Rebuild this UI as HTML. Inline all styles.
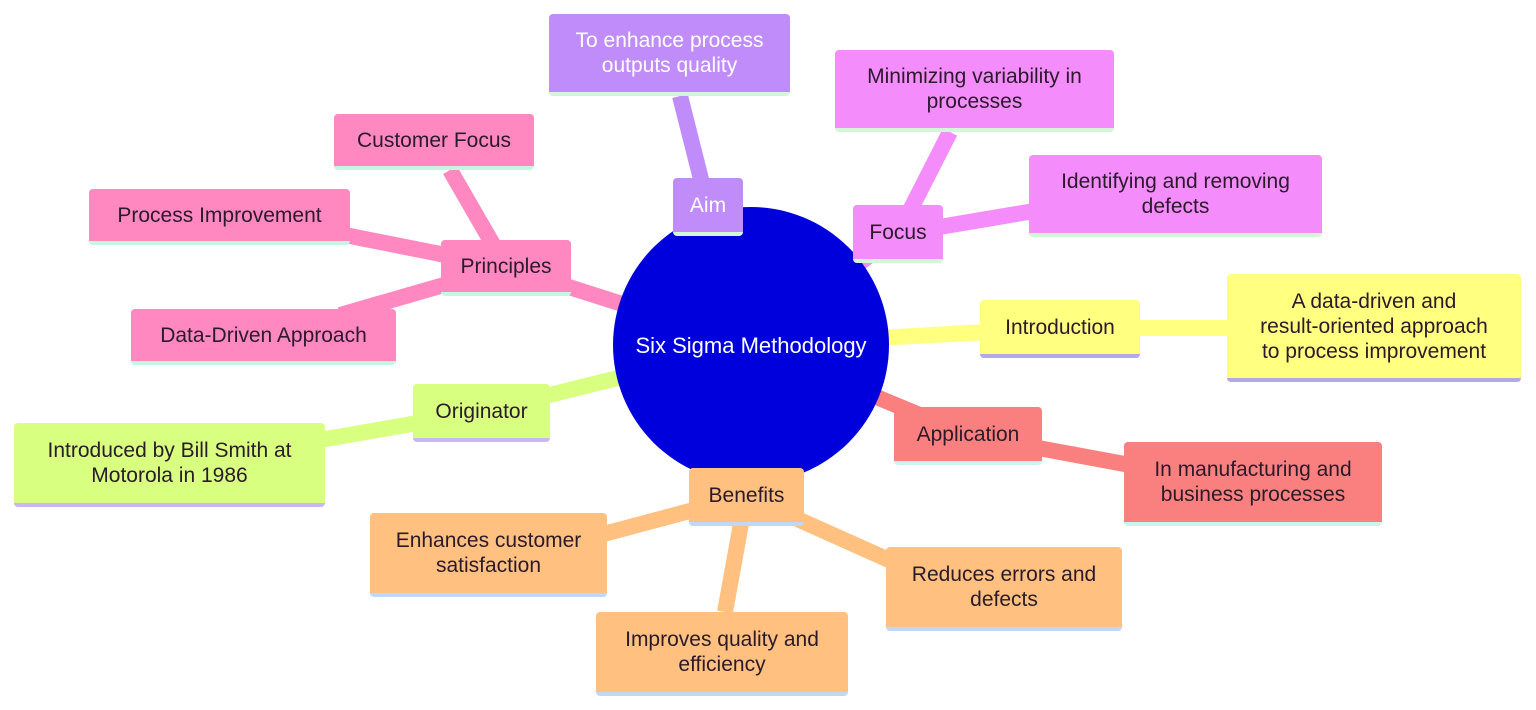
<!DOCTYPE html>
<html><head><meta charset="utf-8"><style>
body{margin:0;width:1536px;height:710px;background:#fff;overflow:hidden;position:relative;font-family:"Liberation Sans",sans-serif}
.n{position:absolute;display:flex;align-items:center;justify-content:center;text-align:center;font-size:21px;line-height:25px;color:#2a1a2a;border-radius:4px;box-sizing:border-box;padding:0 4px;white-space:nowrap}
</style></head><body>
<svg width="1536" height="710" style="position:absolute;left:0;top:0" stroke-linecap="butt">
<g stroke-width="16">
<line x1="751" y1="345" x2="708" y2="207" stroke="#c08cfa"/>
<line x1="708" y1="207" x2="680" y2="96" stroke="#c08cfa"/>
<line x1="751" y1="345" x2="898" y2="234" stroke="#f48cfc"/>
<line x1="898" y1="234" x2="950" y2="132" stroke="#f48cfc"/>
<line x1="898" y1="234" x2="1040" y2="210" stroke="#f48cfc"/>
<line x1="751" y1="345" x2="506" y2="267" stroke="#ff88c0"/>
<line x1="506" y1="267" x2="450" y2="170" stroke="#ff88c0"/>
<line x1="506" y1="267" x2="345" y2="235" stroke="#ff88c0"/>
<line x1="506" y1="267" x2="340" y2="315" stroke="#ff88c0"/>
<line x1="751" y1="345" x2="1060" y2="328" stroke="#ffff80"/>
<line x1="1060" y1="328" x2="1230" y2="328" stroke="#ffff80"/>
<line x1="751" y1="345" x2="481" y2="412" stroke="#d9ff80"/>
<line x1="481" y1="412" x2="320" y2="440" stroke="#d9ff80"/>
<line x1="751" y1="345" x2="968" y2="435" stroke="#fa8080"/>
<line x1="968" y1="435" x2="1130" y2="465" stroke="#fa8080"/>
<line x1="751" y1="345" x2="746" y2="496" stroke="#ffc080"/>
<line x1="746" y1="496" x2="600" y2="535" stroke="#ffc080"/>
<line x1="746" y1="496" x2="725" y2="612" stroke="#ffc080"/>
<line x1="746" y1="496" x2="900" y2="565" stroke="#ffc080"/>
</g>
<circle cx="751" cy="345" r="138" fill="#0000dd"/>
<text x="751" y="353" fill="#fff" font-size="22" text-anchor="middle" font-family="Liberation Sans,sans-serif">Six Sigma Methodology</text>
</svg>
<div class="n" style="left:549px;top:14px;width:241px;height:82px;background:#c08cfa;border-bottom:4px solid #d5f5d8;color:#fff">To enhance process<br>outputs quality</div>
<div class="n" style="left:673px;top:178px;width:70px;height:58px;background:#c08cfa;border-bottom:4px solid #d5f5d8;color:#fff">Aim</div>
<div class="n" style="left:835px;top:50px;width:279px;height:82px;background:#f48cfc;border-bottom:4px solid #d5f5d8">Minimizing variability in<br>processes</div>
<div class="n" style="left:1029px;top:155px;width:293px;height:82px;background:#f48cfc;border-bottom:4px solid #d5f5d8">Identifying and removing<br>defects</div>
<div class="n" style="left:853px;top:205px;width:90px;height:58px;background:#f48cfc;border-bottom:4px solid #d5f5d8">Focus</div>
<div class="n" style="left:441px;top:240px;width:130px;height:56px;background:#ff88c0;border-bottom:4px solid #c8f5e0">Principles</div>
<div class="n" style="left:334px;top:114px;width:200px;height:56px;background:#ff88c0;border-bottom:4px solid #c8f5e0">Customer Focus</div>
<div class="n" style="left:89px;top:189px;width:261px;height:56px;background:#ff88c0;border-bottom:4px solid #c8f5e0">Process Improvement</div>
<div class="n" style="left:131px;top:309px;width:265px;height:56px;background:#ff88c0;border-bottom:4px solid #c8f5e0">Data-Driven Approach</div>
<div class="n" style="left:980px;top:300px;width:160px;height:58px;background:#ffff80;border-bottom:4px solid #b0a8e8">Introduction</div>
<div class="n" style="left:1227px;top:274px;width:294px;height:108px;background:#ffff80;border-bottom:4px solid #b0a8e8">A data-driven and<br>result-oriented approach<br>to process improvement</div>
<div class="n" style="left:413px;top:384px;width:137px;height:58px;background:#d9ff80;border-bottom:4px solid #c8b8f0">Originator</div>
<div class="n" style="left:14px;top:423px;width:311px;height:84px;background:#d9ff80;border-bottom:4px solid #c8b8f0">Introduced by Bill Smith at<br>Motorola in 1986</div>
<div class="n" style="left:894px;top:407px;width:148px;height:58px;background:#fa8080;border-bottom:4px solid #c8f5f0">Application</div>
<div class="n" style="left:1124px;top:442px;width:258px;height:84px;background:#fa8080;border-bottom:4px solid #c8f5f0">In manufacturing and<br>business processes</div>
<div class="n" style="left:689px;top:468px;width:115px;height:58px;background:#ffc080;border-bottom:4px solid #c0d8f5">Benefits</div>
<div class="n" style="left:370px;top:513px;width:237px;height:84px;background:#ffc080;border-bottom:4px solid #c0d8f5">Enhances customer<br>satisfaction</div>
<div class="n" style="left:596px;top:612px;width:252px;height:84px;background:#ffc080;border-bottom:4px solid #c0d8f5">Improves quality and<br>efficiency</div>
<div class="n" style="left:886px;top:547px;width:236px;height:84px;background:#ffc080;border-bottom:4px solid #c0d8f5">Reduces errors and<br>defects</div>
</body></html>
